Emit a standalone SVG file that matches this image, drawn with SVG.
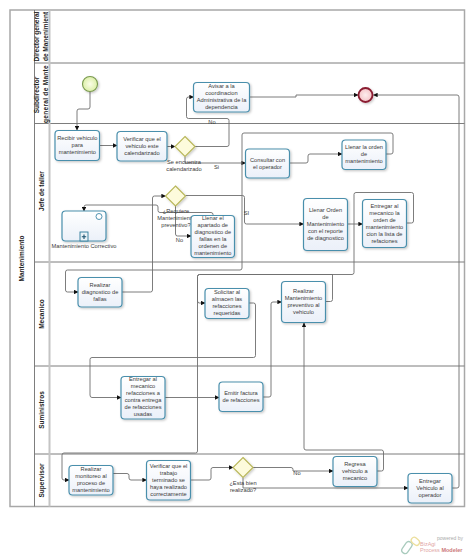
<svg xmlns="http://www.w3.org/2000/svg" width="474" height="558" viewBox="0 0 474 558">
<style>
.pool{fill:#fff;stroke:#a8a8a8;stroke-width:1.5}
.lane{stroke:#7d7d7d;stroke-width:1;fill:none}
.band{stroke:#c4c4c4;stroke-width:2;fill:none}
.task{fill:url(#tg);stroke:#4a8fac;stroke-width:1.2;filter:url(#sh)}
.gw{fill:#fdfbdc;stroke:#b9b75a;stroke-width:1.1;filter:url(#sh)}
.c{fill:none;stroke:#6e6e6e;stroke-width:.9;marker-end:url(#a)}
text{font-family:"Liberation Sans",Arial,sans-serif;font-size:5.7px;fill:#3a3a3a;text-anchor:middle}
.l{font-size:6.5px;font-weight:bold;fill:#222}
</style>
<defs>
<linearGradient id="tg" x1="0" y1="0" x2="0" y2="1"><stop offset="0" stop-color="#fff"/><stop offset="1" stop-color="#ebf0f9"/></linearGradient>
<radialGradient id="sg"><stop offset="0" stop-color="#fbfde8"/><stop offset="1" stop-color="#dcefa8"/></radialGradient>
<radialGradient id="eg"><stop offset="0" stop-color="#fdeeee"/><stop offset="1" stop-color="#f5c4c8"/></radialGradient>
<filter id="sh" x="-20%" y="-20%" width="150%" height="150%"><feDropShadow dx="1.2" dy="1.2" stdDeviation="1.2" flood-color="#000" flood-opacity=".22"/></filter>
<marker id="a" viewBox="0 0 6 6" refX="5.500" refY="3" markerWidth="4.500" markerHeight="4.500" markerUnits="userSpaceOnUse" orient="auto"><path d="M0 0L6 3L0 6Z" fill="#111"/></marker>
</defs>
<g id="pool">
<rect class="pool" x="10" y="10" width="454.500" height="496.500"/>
<path class="lane" d="M34.500 10V506.500M34.500 63H464.500M34.500 123.500H464.500M34.500 262H464.500M34.500 366H464.500M34.500 454H464.500"/>
<path class="band" d="M49.500 10V506.500"/>
<text class="l" transform="translate(24 258.500) rotate(-90)">Mantenimiento</text>
<text class="l" transform="translate(38.800 36.500) rotate(-90)">Director general</text>
<text class="l" transform="translate(47.500 36.500) rotate(-90)">de Manenimient</text>
<text class="l" transform="translate(38.800 95) rotate(-90)">Subdirector</text>
<text class="l" style="letter-spacing:.3px" transform="translate(47.500 94) rotate(-90)">general  de Mante</text>
<text class="l" transform="translate(44 191) rotate(-90)">Jefe de taller</text>
<text class="l" transform="translate(44 314) rotate(-90)">Mecanico</text>
<text class="l" transform="translate(43.500 410) rotate(-90)">Suministros</text>
<text class="l" transform="translate(43.500 480.500) rotate(-90)">Supervisor</text>
</g>
<g id="connectors">
<path class="c" d="M90 92V107Q90 109 88 109H79Q77 109 77 111V130"/>
<path class="c" d="M99.500 145.500H117"/>
<path class="c" d="M167 146.500H175"/>
<path class="c" d="M195 146.500H227Q229 146.500 229 144.500V120.500Q229 118.500 227 118.500H188.500Q186.500 118.500 186.500 116.500V99Q186.500 97 188.500 97H193.500"/>
<path class="c" d="M185 156.500V163H245.500"/>
<path class="c" d="M289.500 163H306Q308 163 308 161V156Q308 154 310 154H342"/>
<path class="c" d="M386 154H391Q393 154 393 152V135Q393 133 391 133H244Q242 133 242 135V268Q242 270 240 270H67.500Q65.500 270 65.500 272V290Q65.500 292 67.500 292H78"/>
<path class="c" d="M122 292H150.500Q152.500 292 152.500 290V198Q152.500 196 154.500 196H165.500"/>
<path class="c" d="M213 215.500V214.500Q213 212.500 211 212.500H160Q158 212.500 158 210.500V207Q158 205 156 205H86Q84 205 84 207V211"/>
<path class="c" d="M175.500 206V234Q175.500 236 177.500 236H191"/>
<path class="c" d="M185.500 195.500H242.500Q244.500 195.500 244.500 197.500V222Q244.500 224 246.500 224H303.500"/>
<path class="c" d="M347.500 224H362.500"/>
<path class="c" d="M406.500 223H411.500Q413.500 223 413.500 221V194.500Q413.500 192.500 411.500 192.500H356Q354 192.500 354 194.500V272.500Q354 274.500 352 274.500H199.500Q197.500 274.500 197.500 276.500V301Q197.500 303 199.500 303H205"/>
<path class="c" d="M325.500 301.500H330.500Q332.500 301.500 332.500 299.500V274.500H199.500Q197.500 274.500 197.500 276.500V451Q197.500 453 195.500 453H64Q62 453 62 455V478Q62 480 64 480H69"/>
<path class="c" d="M249 303H253.500Q255.500 303 255.500 305V355.500Q255.500 357.500 253.500 357.500H92Q90 357.500 90 359.500V395Q90 397.500 92 397.500H121"/>
<path class="c" d="M165 397.500H219"/>
<path class="c" d="M263 397H269Q271 397 271 395V304Q271 302 273 302H281.500"/>
<path class="c" d="M377 471H381.500Q383.500 471 383.500 469V452Q383.500 450 381.500 450H306Q304 450 304 448V323"/>
<path class="c" d="M113 473.500H127Q129 473.500 129 475.500V478Q129 480 131 480H146.500"/>
<path class="c" d="M190.500 480H209Q211 480 211 478V469.500Q211 467.500 213 467.500H233"/>
<path class="c" d="M253 467.500H291Q293 467.500 293 469.500V471H333"/>
<path class="c" d="M243 477.500V488H408"/>
<path class="c" d="M452 488H457Q459 488 459 486V97Q459 95 457 95H373.500"/>
<path class="c" d="M249.500 97H296V95H358"/>
<text x="212" y="124">No</text>
<text x="216.500" y="169">Si</text>
<text x="246.500" y="215">SI</text>
<text x="179.500" y="241.500">No</text>
<text x="297" y="475">No</text>
</g>
<g id="start"><circle cx="90" cy="84" r="7.500" fill="url(#sg)" stroke="#7a9a50" stroke-width="1.100" filter="url(#sh)"/></g>
<g id="end"><circle cx="365.500" cy="95" r="7" fill="url(#eg)" stroke="#8a1c30" stroke-width="1.800" filter="url(#sh)"/></g>
<g id="recibir"><rect class="task" x="55" y="130.500" width="44.500" height="30" rx="3.500"/><text x="77.300" y="140">Recibir vehiculo</text><text x="77.300" y="147">para</text><text x="77.300" y="154">mantenimiento</text></g>
<g id="verificar"><rect class="task" x="117" y="131.500" width="50" height="29.500" rx="3.500"/><text x="142" y="141">Verificar que el</text><text x="142" y="148">vehiculo este</text><text x="142" y="155">calendarizado</text></g>
<g id="gw1"><path class="gw" d="M185 136.500L195 146.500L185 156.500L175 146.500Z"/><text x="184" y="164">Se encuentra</text><text x="184" y="171">calendarizado</text></g>
<g id="avisar"><rect class="task" x="193.500" y="82.500" width="56" height="29.500" rx="3.500"/><text x="221.500" y="88">Avisar a la</text><text x="221.500" y="95">coordinacion</text><text x="221.500" y="102">Administrativa de la</text><text x="221.500" y="109">dependencia</text></g>
<g id="consultar"><rect class="task" x="245.500" y="149" width="44" height="29" rx="3.500"/><text x="267.500" y="162">Consultar con</text><text x="267.500" y="169">el operador</text></g>
<g id="llenar"><rect class="task" x="342" y="140" width="44" height="29.500" rx="3.500"/><text x="364" y="149">Llenar la orden</text><text x="364" y="156">de</text><text x="364" y="163">mantenimiento</text></g>
<g id="correctivo"><rect class="task" x="62" y="211" width="44" height="30" rx="3.500"/><circle cx="99" cy="216.500" r="3" fill="#fff" stroke="#3f88a8" stroke-width=".9"/><rect x="80" y="232" width="8" height="9" fill="#eaf3f8" stroke="#2c7a9a" stroke-width=".9"/><path d="M84 234.500V239M81.800 236.700H86.200" stroke="#174f6c" stroke-width="1.100"/><text x="84" y="248">Mantenimiento Correctivo</text></g>
<g id="gw2"><path class="gw" d="M175.500 186L185.500 196L175.500 206L165.500 196Z"/><text x="176" y="213">¿Requiere</text><text x="176" y="220">Mantenimiento</text><text x="176" y="227">preventivo?</text></g>
<g id="apartado"><rect class="task" x="191" y="215.500" width="43.500" height="42" rx="3.500"/><text x="212.800" y="220">Llenar el</text><text x="212.800" y="227">apartado de</text><text x="212.800" y="234">diagnostico de</text><text x="212.800" y="241">fallas en la</text><text x="212.800" y="248">ordenen de</text><text x="212.800" y="255">mantenimiento</text></g>
<g id="orden"><rect class="task" x="303.500" y="198.500" width="44" height="52" rx="3.500"/><text x="325.500" y="212">Llenar Orden</text><text x="325.500" y="219">de</text><text x="325.500" y="226">Mantenimiento</text><text x="325.500" y="233">con el reporte</text><text x="325.500" y="240">de diagnostico</text></g>
<g id="entregar"><rect class="task" x="362.500" y="199.500" width="44" height="48" rx="3.500"/><text x="384.500" y="207.500">Entregar al</text><text x="384.500" y="214.500">mecanico la</text><text x="384.500" y="221.500">orden de</text><text x="384.500" y="228.500">mantenimiento</text><text x="384.500" y="235.500">cion la lista de</text><text x="384.500" y="242.500">refaciones</text></g>
<g id="diagnostico"><rect class="task" x="78" y="277.500" width="44" height="29.500" rx="3.500"/><text x="100" y="287">Realizar</text><text x="100" y="294">diagnostico de</text><text x="100" y="301">fallas</text></g>
<g id="solicitar"><rect class="task" x="205" y="288.500" width="44" height="30" rx="3.500"/><text x="227" y="294">Solicitar al</text><text x="227" y="301">almacen las</text><text x="227" y="308">refacciones</text><text x="227" y="315">requeridas</text></g>
<g id="preventivo"><rect class="task" x="281.500" y="281.500" width="44" height="41" rx="3.500"/><text x="303.500" y="292.500">Realizar</text><text x="303.500" y="299.500">Mantenimiento</text><text x="303.500" y="306.500">preventivo al</text><text x="303.500" y="313.500">vehiculo</text></g>
<g id="refacciones"><rect class="task" x="121" y="376.500" width="44" height="42.500" rx="3.500"/><text x="143" y="381">Entregar al</text><text x="143" y="388">mecanico</text><text x="143" y="395">refacciones  a</text><text x="143" y="402">contra entrega</text><text x="143" y="409">de refacciones</text><text x="143" y="416">usadas</text></g>
<g id="factura"><rect class="task" x="219" y="382" width="44" height="29.500" rx="3.500"/><text x="241" y="395">Emitir factura</text><text x="241" y="402">de refacciones</text></g>
<g id="monitoreo"><rect class="task" x="69" y="465.500" width="44" height="29.500" rx="3.500"/><text x="91" y="471">Realizar</text><text x="91" y="478">monitoreo al</text><text x="91" y="485">proceso de</text><text x="91" y="492">mantenimiento</text></g>
<g id="trabajo"><rect class="task" x="146.500" y="460.500" width="44" height="39.500" rx="3.500"/><text x="168.500" y="468">Verificar que el</text><text x="168.500" y="475">trabajo</text><text x="168.500" y="482">terminado se</text><text x="168.500" y="489">haya realizado</text><text x="168.500" y="496">correctamente</text></g>
<g id="gw3"><path class="gw" d="M243 457.500L253 467.500L243 477.500L233 467.500Z"/><text x="243" y="485">¿Esta bien</text><text x="243" y="492">realizado?</text></g>
<g id="regresa"><rect class="task" x="333" y="456.500" width="44" height="30" rx="3.500"/><text x="354.900" y="466">Regresa</text><text x="354.900" y="473">vehiculo a</text><text x="354.900" y="480">mecanico</text></g>
<g id="entregaop"><rect class="task" x="408" y="473.500" width="44" height="29.500" rx="3.500"/><text x="430" y="483">Entregar</text><text x="430" y="490">Vehiculo al</text><text x="430" y="497">operador</text></g>
<g id="logo"><text x="450" y="540" style="font-size:5px;fill:#aaa">powered by</text><text x="420" y="545.500" style="font-size:5.500px;fill:#dfa5a5;text-anchor:start">BizAgi</text><text x="420" y="551.500" style="font-size:5.500px;fill:#dfa5a5;text-anchor:start">Process <tspan style="font-weight:bold;fill:#cc7a7a">Modeler</tspan></text><rect x="404" y="541" width="6.500" height="13" rx="3.200" transform="rotate(35 407 547)" fill="none" stroke="#a9cbbd" stroke-width="1.300"/><rect x="412" y="537" width="6" height="9" rx="3" transform="rotate(-50 415 541)" fill="none" stroke="#ecdf9c" stroke-width="1.300"/></g>
</svg>
